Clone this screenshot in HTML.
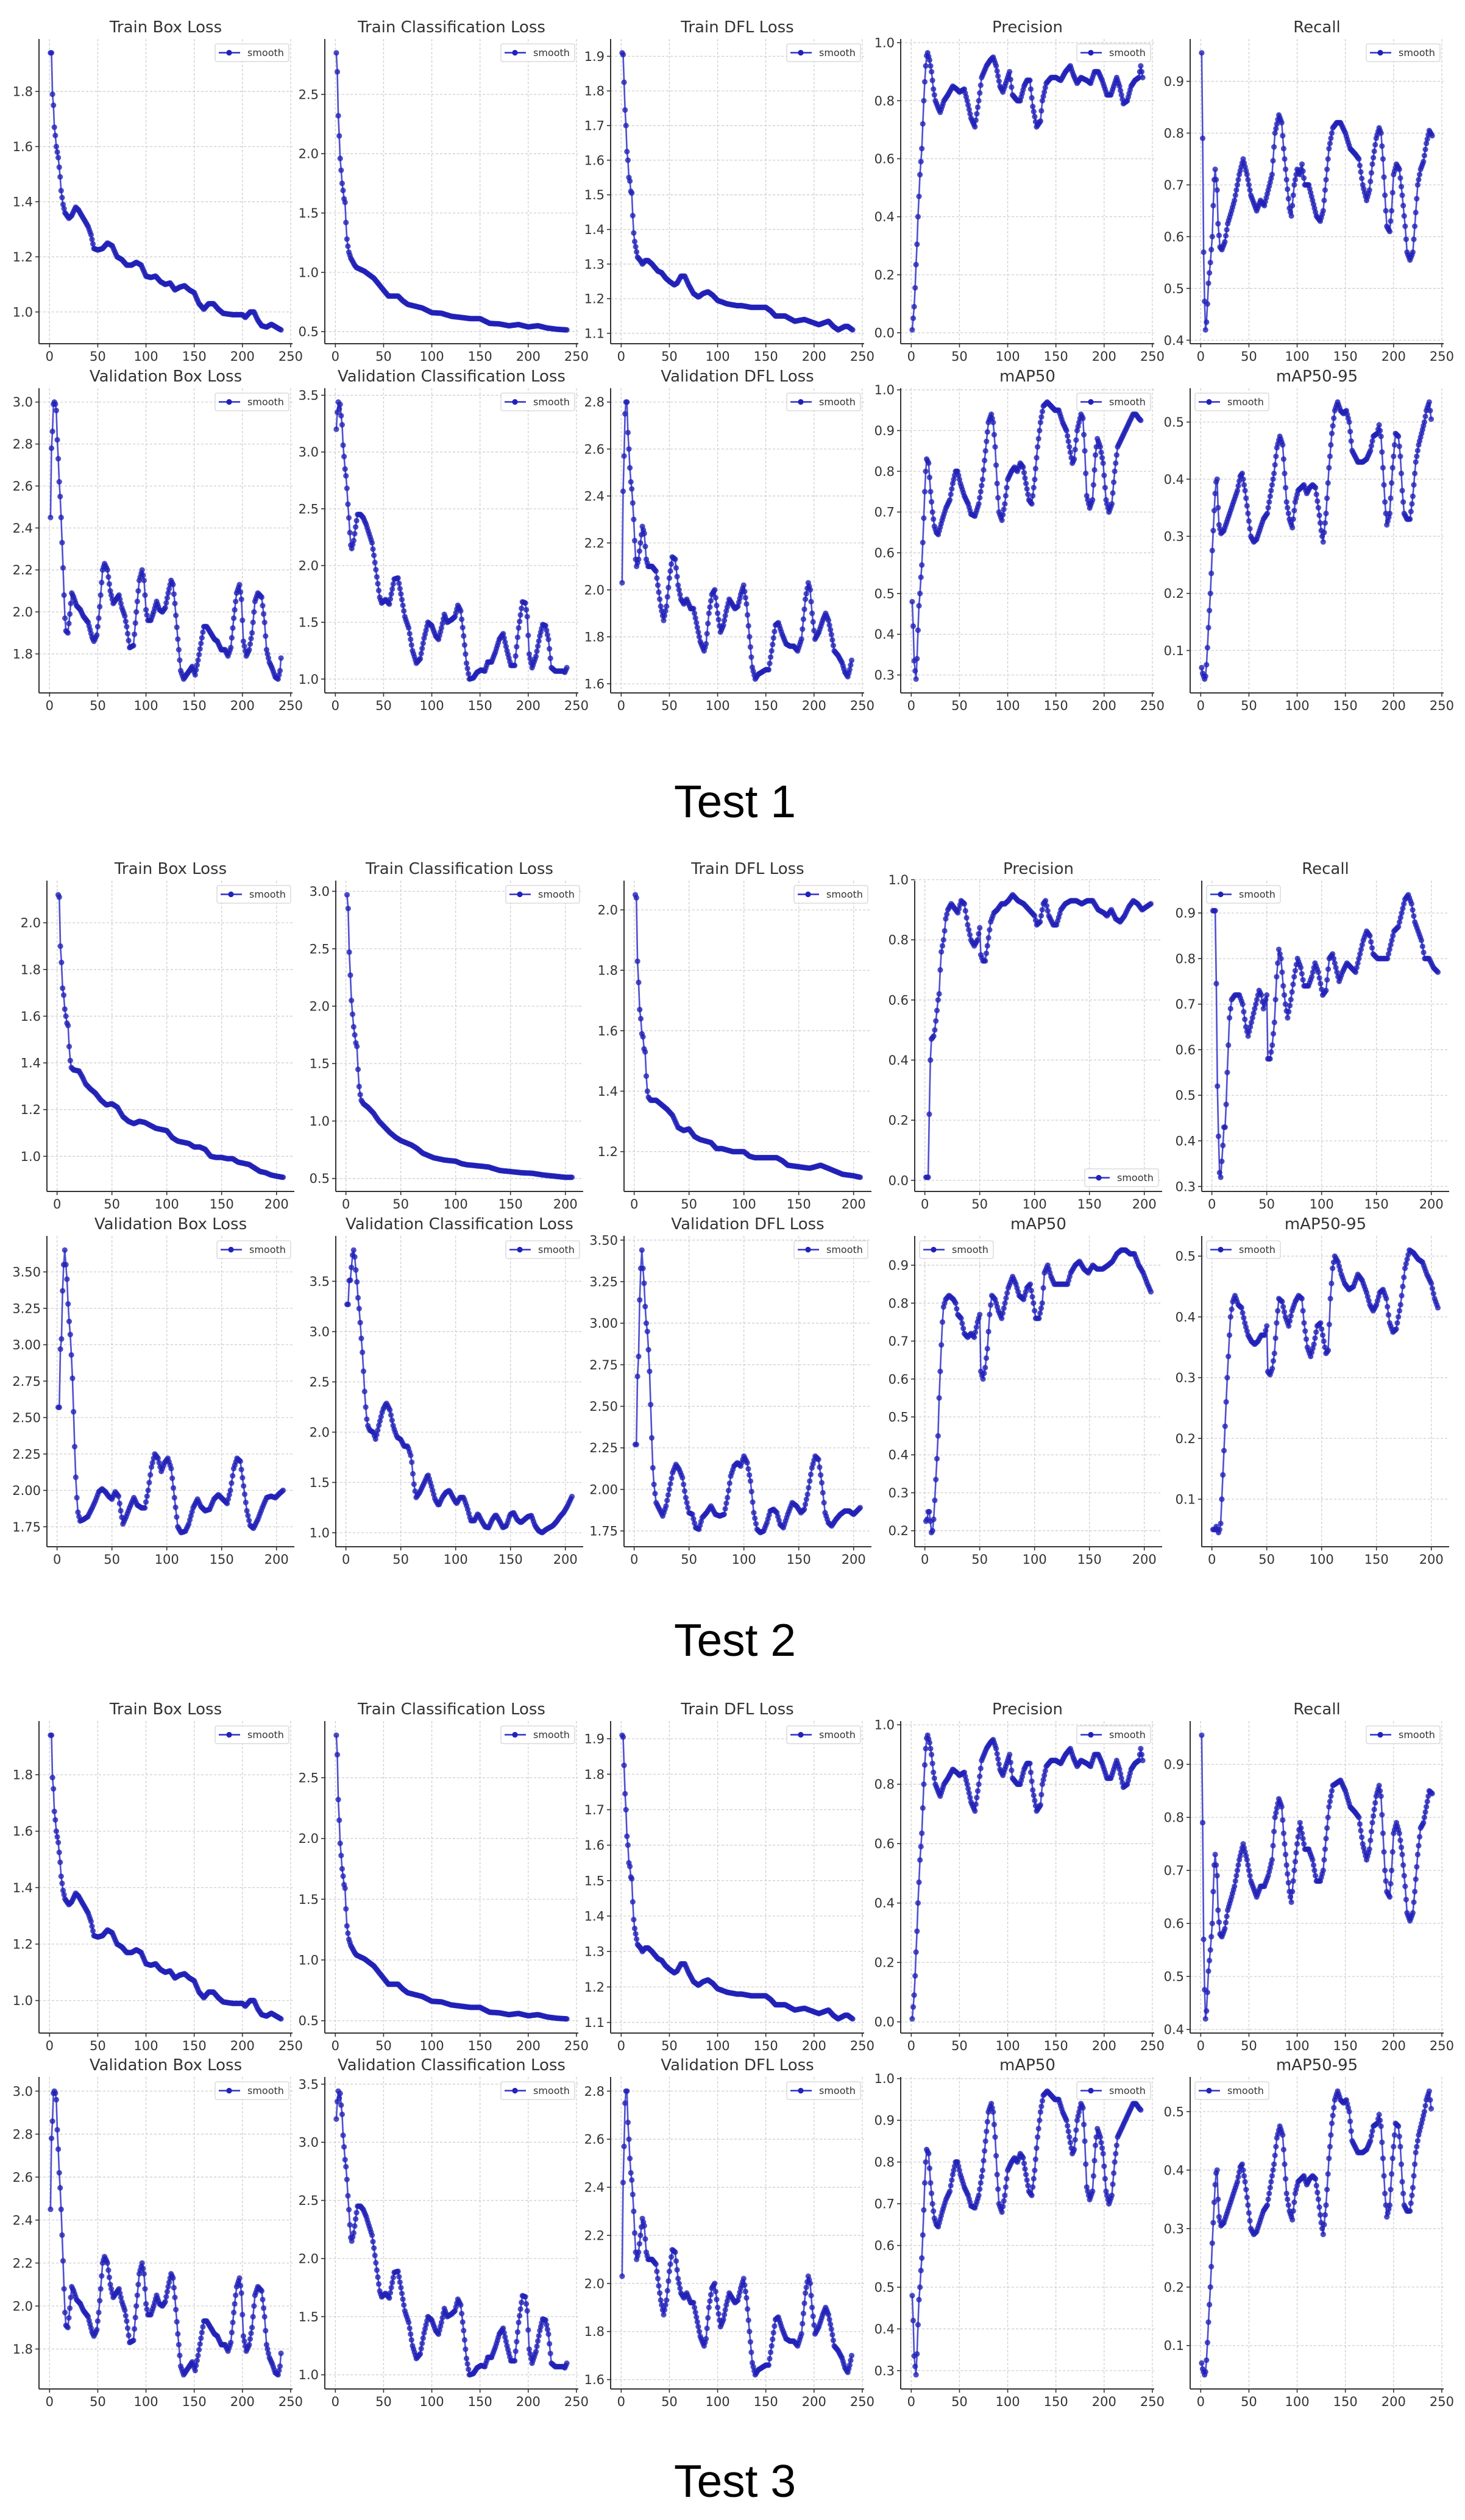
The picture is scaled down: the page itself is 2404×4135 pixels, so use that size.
<!DOCTYPE html>
<html><head><meta charset="utf-8">
<style>
html,body{margin:0;padding:0;background:#fff;}
svg{display:block;}
</style></head>
<body>
<svg id="s" xmlns="http://www.w3.org/2000/svg" width="2404" height="4135" viewBox="0 0 2404 4135">
<rect width="2404" height="4135" fill="#fff"/>
<text x="1206" y="1341" font-family="Liberation Sans, sans-serif" font-size="75" text-anchor="middle" fill="#000">Test 1</text>
<text x="1206" y="2717" font-family="Liberation Sans, sans-serif" font-size="75" text-anchor="middle" fill="#000">Test 2</text>
<text x="1206" y="4097" font-family="Liberation Sans, sans-serif" font-size="75" text-anchor="middle" fill="#000">Test 3</text>
</svg>
<script>
var D={};
D.tbox1=[[1,1.94],[2,1.94],[3,1.79],[4,1.75],[5,1.67],[6,1.64],[7,1.6],[9,1.56],[11,1.49],[12,1.44],[14,1.39],[16,1.36],[20,1.34],[23,1.35],[27,1.38],[30,1.37],[35,1.34],[40,1.31],[43,1.28],[46,1.23],[50,1.225],[55,1.23],[60,1.25],[65,1.24],[70,1.2],[75,1.19],[80,1.17],[85,1.17],[90,1.18],[95,1.17],[100,1.13],[105,1.125],[110,1.13],[115,1.11],[120,1.1],[125,1.105],[130,1.08],[135,1.09],[140,1.095],[145,1.08],[150,1.07],[155,1.03],[160,1.01],[165,1.03],[170,1.03],[175,1.01],[180,0.995],[190,0.99],[195,0.99],[200,0.99],[203,0.98],[208,1.0],[212,1.0],[216,0.97],[220,0.95],[225,0.945],[230,0.955],[235,0.945],[240,0.935]];
D.tcls1=[[1,2.85],[2,2.69],[3,2.32],[4,2.15],[5,1.96],[6,1.86],[7,1.75],[8,1.69],[9,1.62],[10,1.59],[11,1.42],[12,1.28],[13,1.22],[14,1.17],[16,1.12],[18,1.09],[20,1.06],[22,1.04],[30,1.01],[40,0.95],[50,0.85],[55,0.8],[60,0.8],[65,0.8],[70,0.76],[75,0.73],[80,0.72],[90,0.7],[100,0.66],[110,0.655],[120,0.63],[130,0.62],[140,0.61],[150,0.61],[155,0.59],[160,0.57],[170,0.565],[180,0.55],[190,0.56],[200,0.54],[210,0.55],[220,0.53],[230,0.52],[240,0.515]];
D.tdfl1=[[1,1.91],[2,1.905],[4,1.745],[5,1.70],[6,1.625],[7,1.6],[8,1.55],[9,1.54],[10,1.51],[11,1.505],[12,1.44],[13,1.39],[14,1.365],[15,1.35],[17,1.32],[20,1.31],[22,1.3],[25,1.31],[28,1.31],[32,1.3],[38,1.28],[42,1.275],[46,1.26],[50,1.25],[55,1.24],[58,1.245],[62,1.265],[66,1.265],[70,1.24],[75,1.215],[80,1.205],[85,1.215],[90,1.22],[95,1.21],[100,1.195],[110,1.185],[120,1.18],[125,1.18],[135,1.175],[150,1.175],[155,1.165],[160,1.15],[165,1.15],[170,1.15],[180,1.135],[190,1.14],[200,1.13],[205,1.125],[215,1.135],[220,1.12],[225,1.11],[232,1.12],[235,1.12],[240,1.11]];
D.prec1=[[1,0.01],[3,0.09],[4,0.155],[5,0.235],[6,0.305],[7,0.4],[8,0.47],[9,0.545],[10,0.59],[11,0.635],[12,0.72],[13,0.8],[14,0.865],[15,0.92],[16,0.955],[17,0.965],[19,0.94],[21,0.9],[23,0.84],[25,0.8],[28,0.775],[30,0.76],[34,0.8],[38,0.82],[43,0.85],[47,0.84],[50,0.83],[55,0.84],[58,0.8],[62,0.74],[66,0.71],[70,0.8],[73,0.88],[78,0.92],[82,0.94],[85,0.95],[88,0.92],[92,0.85],[95,0.83],[100,0.88],[102,0.9],[105,0.82],[110,0.8],[113,0.8],[117,0.85],[120,0.87],[123,0.87],[126,0.78],[130,0.71],[134,0.73],[136,0.8],[140,0.86],[145,0.88],[150,0.88],[155,0.87],[160,0.9],[165,0.92],[168,0.89],[172,0.86],[176,0.88],[182,0.87],[186,0.86],[190,0.9],[194,0.9],[198,0.87],[203,0.82],[207,0.82],[210,0.85],[213,0.88],[216,0.85],[220,0.79],[224,0.8],[228,0.85],[232,0.87],[236,0.88],[238,0.92],[240,0.88]];
D.rec1=[[1,0.955],[2,0.79],[3,0.57],[4,0.475],[5,0.42],[6,0.435],[7,0.47],[8,0.51],[9,0.53],[10,0.55],[12,0.6],[13,0.66],[14,0.71],[15,0.73],[16,0.71],[17,0.69],[18,0.625],[20,0.58],[22,0.575],[25,0.59],[28,0.625],[32,0.65],[35,0.67],[40,0.72],[44,0.75],[48,0.72],[52,0.68],[55,0.665],[58,0.65],[62,0.67],[66,0.66],[70,0.69],[74,0.72],[77,0.8],[81,0.835],[84,0.82],[86,0.77],[89,0.71],[92,0.655],[94,0.64],[97,0.7],[100,0.73],[103,0.72],[105,0.74],[108,0.7],[112,0.7],[116,0.67],[120,0.64],[124,0.63],[127,0.65],[130,0.71],[133,0.77],[137,0.81],[141,0.82],[145,0.82],[150,0.8],[155,0.77],[160,0.76],[164,0.75],[168,0.7],[172,0.67],[175,0.69],[178,0.74],[182,0.79],[185,0.81],[187,0.8],[189,0.75],[191,0.68],[193,0.62],[196,0.61],[198,0.65],[200,0.72],[203,0.74],[206,0.73],[209,0.68],[212,0.62],[214,0.57],[217,0.555],[220,0.57],[222,0.62],[225,0.7],[228,0.73],[231,0.745],[234,0.78],[237,0.805],[240,0.795]];
D.rec3=[[1,0.955],[2,0.79],[3,0.57],[4,0.475],[5,0.42],[6,0.435],[7,0.47],[8,0.51],[9,0.53],[10,0.55],[12,0.6],[13,0.66],[14,0.71],[15,0.73],[16,0.71],[17,0.69],[18,0.625],[20,0.58],[22,0.575],[25,0.59],[28,0.625],[32,0.65],[35,0.67],[40,0.72],[44,0.75],[48,0.72],[52,0.68],[55,0.665],[58,0.65],[62,0.67],[66,0.67],[70,0.69],[74,0.72],[77,0.8],[81,0.835],[84,0.82],[86,0.77],[89,0.71],[92,0.66],[94,0.64],[97,0.7],[100,0.75],[103,0.79],[105,0.77],[108,0.74],[112,0.74],[116,0.72],[120,0.68],[124,0.68],[127,0.7],[130,0.76],[133,0.82],[137,0.86],[141,0.865],[145,0.87],[150,0.85],[155,0.82],[160,0.81],[164,0.8],[168,0.75],[172,0.72],[175,0.74],[178,0.79],[182,0.84],[185,0.86],[187,0.84],[189,0.77],[191,0.7],[193,0.66],[196,0.65],[198,0.7],[200,0.77],[203,0.79],[206,0.77],[209,0.73],[212,0.67],[214,0.62],[217,0.605],[220,0.62],[222,0.66],[225,0.73],[228,0.78],[231,0.79],[234,0.82],[237,0.85],[240,0.845]];
D.vbox1=[[1,2.45],[2,2.78],[3,2.86],[4,2.99],[5,3.0],[6,2.99],[7,2.96],[8,2.82],[9,2.73],[10,2.62],[11,2.55],[12,2.45],[13,2.33],[14,2.21],[15,2.08],[16,1.97],[17,1.91],[19,1.9],[21,1.99],[23,2.09],[25,2.07],[28,2.03],[32,2.01],[35,1.98],[40,1.95],[44,1.88],[46,1.86],[49,1.89],[51,1.97],[53,2.08],[55,2.2],[57,2.23],[60,2.2],[63,2.1],[66,2.04],[69,2.06],[72,2.08],[75,2.02],[78,1.98],[80,1.93],[83,1.83],[87,1.84],[90,2.0],[93,2.15],[96,2.2],[98,2.15],[100,2.01],[102,1.96],[105,1.96],[108,2.0],[111,2.05],[114,2.01],[117,2.0],[120,2.02],[123,2.09],[126,2.15],[128,2.13],[130,2.04],[133,1.87],[136,1.72],[139,1.68],[142,1.7],[145,1.72],[148,1.74],[151,1.7],[154,1.77],[157,1.85],[160,1.93],[163,1.93],[167,1.9],[171,1.87],[174,1.86],[178,1.82],[182,1.82],[185,1.79],[188,1.83],[191,1.97],[194,2.09],[197,2.13],[199,2.06],[201,1.86],[204,1.79],[207,1.82],[210,1.9],[213,2.05],[216,2.09],[220,2.07],[223,1.95],[225,1.82],[228,1.76],[231,1.73],[234,1.69],[237,1.68],[239,1.72],[240,1.78]];
D.vcls1=[[1,3.2],[2,3.35],[3,3.44],[4,3.38],[5,3.42],[6,3.32],[7,3.24],[8,3.06],[9,2.96],[10,2.85],[11,2.79],[12,2.68],[13,2.54],[14,2.42],[15,2.29],[16,2.18],[17,2.15],[19,2.22],[21,2.34],[23,2.45],[26,2.45],[29,2.42],[32,2.36],[35,2.28],[38,2.2],[40,2.09],[43,1.9],[46,1.72],[48,1.67],[52,1.7],[56,1.66],[58,1.75],[61,1.88],[65,1.89],[68,1.75],[72,1.55],[76,1.45],[80,1.25],[84,1.14],[88,1.18],[92,1.36],[96,1.5],[100,1.47],[104,1.38],[107,1.35],[110,1.45],[113,1.57],[116,1.5],[120,1.52],[124,1.55],[127,1.65],[130,1.6],[133,1.38],[136,1.14],[139,1.0],[143,1.01],[147,1.06],[151,1.08],[155,1.07],[158,1.15],[162,1.15],[166,1.24],[170,1.35],[174,1.4],[178,1.25],[182,1.12],[186,1.12],[190,1.45],[194,1.68],[197,1.67],[199,1.55],[201,1.22],[204,1.1],[208,1.2],[212,1.38],[215,1.48],[218,1.47],[221,1.35],[224,1.1],[228,1.07],[232,1.07],[236,1.07],[238,1.06],[240,1.1]];
D.vdfl1=[[1,2.03],[2,2.42],[3,2.57],[4,2.75],[5,2.8],[6,2.8],[7,2.67],[8,2.6],[9,2.52],[10,2.46],[11,2.43],[12,2.37],[13,2.3],[14,2.21],[15,2.13],[16,2.1],[18,2.13],[20,2.2],[22,2.27],[24,2.24],[26,2.13],[28,2.1],[32,2.1],[36,2.08],[38,2.02],[41,1.93],[44,1.87],[47,1.93],[50,2.05],[53,2.14],[56,2.13],[59,2.02],[62,1.96],[65,1.94],[68,1.96],[72,1.92],[75,1.92],[78,1.86],[82,1.78],[86,1.74],[88,1.77],[91,1.9],[94,1.98],[97,2.0],[100,1.9],[103,1.82],[106,1.85],[109,1.91],[112,1.96],[115,1.94],[118,1.92],[121,1.93],[124,1.98],[127,2.02],[130,1.94],[133,1.8],[136,1.67],[139,1.62],[142,1.64],[146,1.65],[150,1.66],[153,1.66],[156,1.74],[160,1.85],[163,1.86],[167,1.81],[171,1.77],[175,1.76],[179,1.76],[183,1.74],[187,1.79],[191,1.96],[194,2.03],[196,2.0],[198,1.9],[201,1.79],[205,1.82],[209,1.87],[212,1.9],[215,1.87],[218,1.81],[221,1.74],[225,1.72],[229,1.69],[232,1.65],[235,1.63],[237,1.66],[239,1.7]];
D.map1=[[1,0.48],[2,0.42],[3,0.335],[4,0.31],[5,0.29],[6,0.34],[7,0.41],[8,0.47],[9,0.5],[10,0.54],[11,0.57],[12,0.625],[13,0.685],[14,0.75],[15,0.8],[16,0.83],[18,0.82],[20,0.75],[22,0.7],[24,0.665],[26,0.65],[28,0.645],[32,0.68],[36,0.71],[40,0.73],[43,0.77],[46,0.8],[48,0.8],[51,0.77],[55,0.74],[59,0.72],[62,0.695],[66,0.69],[70,0.72],[74,0.78],[77,0.85],[80,0.92],[83,0.94],[85,0.92],[87,0.86],[89,0.77],[91,0.7],[94,0.68],[97,0.72],[100,0.78],[104,0.8],[107,0.81],[110,0.8],[113,0.82],[116,0.81],[119,0.77],[122,0.73],[125,0.72],[128,0.78],[131,0.86],[134,0.92],[137,0.96],[141,0.97],[145,0.96],[149,0.95],[153,0.95],[157,0.92],[161,0.9],[164,0.86],[167,0.82],[169,0.83],[172,0.9],[176,0.94],[178,0.93],[180,0.85],[182,0.74],[185,0.71],[188,0.73],[191,0.84],[193,0.88],[196,0.86],[199,0.82],[202,0.73],[205,0.7],[208,0.72],[211,0.8],[214,0.86],[218,0.88],[222,0.9],[226,0.92],[230,0.94],[233,0.94],[236,0.93],[238,0.925]];
D.m951=[[1,0.07],[2,0.06],[3,0.055],[4,0.05],[5,0.055],[6,0.075],[7,0.105],[8,0.14],[9,0.17],[10,0.2],[11,0.235],[12,0.275],[13,0.31],[14,0.345],[15,0.375],[16,0.395],[17,0.4],[18,0.35],[19,0.32],[21,0.305],[24,0.31],[27,0.325],[30,0.34],[34,0.36],[38,0.38],[41,0.405],[43,0.41],[46,0.38],[49,0.34],[52,0.3],[55,0.29],[58,0.295],[61,0.31],[65,0.33],[69,0.34],[73,0.38],[76,0.41],[79,0.455],[82,0.475],[85,0.46],[87,0.41],[89,0.36],[92,0.33],[95,0.315],[98,0.36],[101,0.38],[104,0.385],[107,0.39],[110,0.375],[113,0.385],[116,0.39],[119,0.385],[122,0.35],[125,0.31],[127,0.29],[130,0.34],[133,0.42],[136,0.48],[139,0.52],[142,0.535],[145,0.52],[148,0.515],[151,0.52],[154,0.5],[157,0.45],[160,0.44],[163,0.43],[168,0.43],[172,0.435],[176,0.45],[179,0.475],[183,0.48],[185,0.495],[187,0.475],[189,0.42],[191,0.36],[193,0.32],[196,0.34],[199,0.42],[202,0.48],[205,0.475],[207,0.44],[209,0.38],[211,0.34],[214,0.33],[217,0.33],[220,0.37],[223,0.43],[226,0.46],[229,0.48],[232,0.5],[234,0.52],[237,0.535],[239,0.505]];
D.tbox2=[[1,2.12],[2,2.11],[3,1.9],[4,1.83],[5,1.72],[6,1.69],[7,1.63],[8,1.6],[9,1.57],[10,1.56],[11,1.47],[12,1.41],[13,1.38],[15,1.37],[20,1.365],[23,1.34],[26,1.31],[30,1.29],[35,1.27],[40,1.24],[45,1.22],[50,1.225],[55,1.21],[60,1.17],[65,1.15],[70,1.14],[75,1.15],[80,1.145],[90,1.12],[100,1.11],[105,1.08],[110,1.065],[115,1.06],[120,1.055],[125,1.04],[130,1.04],[135,1.03],[140,1.0],[145,0.995],[150,0.995],[155,0.99],[160,0.99],[165,0.975],[170,0.97],[175,0.965],[180,0.95],[185,0.935],[190,0.93],[195,0.92],[200,0.915],[206,0.91]];
D.tcls2=[[1,2.97],[2,2.85],[3,2.47],[4,2.27],[5,2.05],[6,1.93],[7,1.82],[8,1.75],[9,1.68],[10,1.65],[11,1.45],[12,1.3],[13,1.23],[14,1.18],[16,1.15],[20,1.12],[25,1.07],[30,1.0],[35,0.95],[40,0.9],[45,0.86],[50,0.83],[55,0.81],[60,0.79],[65,0.76],[70,0.72],[75,0.7],[80,0.68],[90,0.66],[100,0.65],[105,0.63],[110,0.62],[120,0.61],[130,0.6],[140,0.57],[150,0.56],[160,0.55],[170,0.545],[180,0.53],[190,0.52],[200,0.51],[206,0.51]];
D.tdfl2=[[1,2.05],[2,2.04],[3,1.83],[4,1.76],[5,1.67],[6,1.64],[7,1.59],[8,1.58],[9,1.54],[10,1.53],[11,1.45],[12,1.4],[13,1.38],[15,1.37],[20,1.37],[25,1.355],[30,1.34],[35,1.32],[40,1.28],[45,1.27],[50,1.275],[55,1.25],[60,1.24],[65,1.235],[70,1.23],[75,1.21],[80,1.21],[90,1.2],[95,1.2],[100,1.2],[105,1.185],[110,1.18],[120,1.18],[130,1.18],[135,1.17],[140,1.155],[150,1.15],[160,1.145],[170,1.155],[180,1.14],[190,1.125],[200,1.12],[206,1.115]];
D.prec2=[[1,0.01],[2,0.01],[3,0.01],[4,0.22],[5,0.4],[6,0.47],[8,0.48],[9,0.5],[10,0.53],[12,0.6],[13,0.62],[14,0.7],[15,0.76],[17,0.8],[18,0.83],[19,0.87],[21,0.9],[24,0.92],[28,0.9],[30,0.89],[33,0.93],[36,0.92],[39,0.85],[42,0.8],[45,0.78],[48,0.8],[50,0.84],[51,0.75],[53,0.73],[55,0.73],[57,0.78],[60,0.86],[63,0.89],[66,0.9],[70,0.92],[73,0.92],[76,0.93],[80,0.95],[85,0.93],[90,0.92],[95,0.9],[100,0.88],[102,0.85],[105,0.86],[108,0.92],[110,0.93],[113,0.88],[117,0.85],[120,0.85],[124,0.9],[128,0.92],[133,0.93],[138,0.93],[143,0.92],[148,0.93],[153,0.93],[158,0.9],[163,0.89],[166,0.88],[170,0.9],[174,0.87],[178,0.86],[182,0.88],[186,0.91],[190,0.93],[194,0.92],[198,0.9],[202,0.91],[206,0.92]];
D.rec2=[[1,0.905],[2,0.905],[3,0.905],[4,0.745],[5,0.52],[6,0.41],[7,0.33],[8,0.32],[9,0.355],[10,0.39],[11,0.43],[12,0.43],[13,0.48],[14,0.55],[15,0.61],[16,0.67],[18,0.71],[21,0.72],[25,0.72],[28,0.7],[31,0.65],[33,0.63],[36,0.66],[40,0.7],[43,0.73],[45,0.72],[47,0.69],[50,0.72],[51,0.58],[53,0.58],[55,0.61],[57,0.66],[59,0.76],[61,0.82],[63,0.8],[65,0.74],[67,0.7],[69,0.67],[72,0.71],[75,0.76],[78,0.8],[81,0.78],[84,0.74],[88,0.74],[91,0.76],[94,0.79],[97,0.77],[101,0.72],[104,0.73],[107,0.8],[110,0.81],[113,0.78],[116,0.75],[119,0.77],[123,0.79],[127,0.78],[131,0.77],[134,0.8],[138,0.84],[141,0.86],[144,0.85],[147,0.81],[151,0.8],[156,0.8],[160,0.8],[163,0.83],[166,0.86],[170,0.87],[173,0.9],[176,0.93],[179,0.94],[182,0.92],[185,0.88],[188,0.86],[191,0.84],[194,0.8],[198,0.8],[202,0.78],[206,0.77]];
D.vbox2=[[1,2.57],[2,2.57],[3,2.97],[4,3.04],[5,3.37],[6,3.55],[7,3.65],[8,3.55],[9,3.45],[10,3.28],[11,3.16],[12,3.07],[13,2.93],[14,2.77],[15,2.54],[16,2.3],[17,2.09],[18,1.95],[19,1.85],[21,1.79],[24,1.8],[28,1.82],[32,1.88],[35,1.93],[38,1.99],[41,2.01],[44,1.99],[47,1.96],[50,1.94],[53,1.99],[56,1.96],[58,1.86],[60,1.77],[63,1.82],[66,1.88],[70,1.95],[73,1.9],[77,1.88],[80,1.88],[83,2.0],[86,2.16],[89,2.25],[92,2.22],[95,2.13],[98,2.19],[101,2.22],[104,2.15],[107,1.95],[110,1.75],[113,1.71],[117,1.72],[120,1.77],[124,1.88],[128,1.94],[131,1.89],[135,1.86],[139,1.87],[143,1.94],[147,1.97],[151,1.94],[155,1.91],[158,2.0],[161,2.15],[164,2.22],[167,2.2],[170,2.03],[173,1.86],[176,1.76],[179,1.74],[183,1.8],[187,1.88],[191,1.95],[195,1.96],[199,1.95],[203,1.98],[206,2.0]];
D.vcls2=[[1,3.27],[2,3.27],[3,3.55],[4,3.5],[5,3.7],[6,3.8],[7,3.82],[8,3.65],[9,3.55],[10,3.36],[11,3.25],[12,3.1],[13,2.93],[14,2.78],[15,2.57],[16,2.35],[17,2.2],[18,2.08],[20,2.02],[23,2.0],[25,1.93],[28,2.08],[31,2.22],[34,2.29],[37,2.22],[40,2.05],[43,1.95],[46,1.93],[49,1.86],[52,1.86],[55,1.75],[57,1.5],[59,1.35],[62,1.4],[66,1.5],[69,1.58],[72,1.46],[75,1.33],[78,1.27],[81,1.35],[84,1.4],[87,1.42],[90,1.35],[93,1.29],[96,1.35],[99,1.35],[102,1.25],[105,1.12],[108,1.12],[111,1.19],[114,1.12],[117,1.06],[120,1.05],[123,1.13],[126,1.18],[129,1.12],[132,1.05],[135,1.07],[138,1.18],[141,1.2],[144,1.13],[147,1.1],[150,1.13],[153,1.16],[156,1.17],[159,1.07],[162,1.02],[165,1.0],[168,1.03],[171,1.05],[174,1.07],[177,1.11],[180,1.16],[183,1.2],[186,1.26],[190,1.36]].map(function(p){return [1+(p[0]-1)*205/189,p[1]];});
D.vdfl2=[[1,2.27],[2,2.27],[3,2.68],[4,2.8],[5,3.14],[6,3.33],[7,3.44],[8,3.33],[9,3.24],[10,3.1],[11,3.0],[12,2.95],[13,2.84],[14,2.71],[15,2.51],[16,2.31],[17,2.13],[18,2.03],[20,1.92],[23,1.88],[26,1.84],[29,1.9],[32,2.0],[35,2.1],[38,2.15],[41,2.12],[44,2.07],[47,1.95],[50,1.86],[53,1.85],[56,1.77],[59,1.76],[62,1.83],[66,1.86],[70,1.9],[74,1.85],[78,1.84],[82,1.85],[85,1.95],[88,2.08],[91,2.14],[94,2.16],[97,2.14],[100,2.2],[103,2.16],[106,2.05],[109,1.86],[112,1.76],[115,1.74],[118,1.75],[121,1.8],[124,1.87],[127,1.88],[130,1.86],[133,1.79],[136,1.77],[140,1.85],[144,1.92],[148,1.9],[152,1.86],[155,1.88],[158,1.97],[162,2.13],[165,2.2],[168,2.18],[171,2.04],[174,1.86],[177,1.8],[180,1.78],[184,1.82],[188,1.85],[192,1.87],[196,1.87],[200,1.85],[203,1.87],[206,1.89]];
D.map2=[[1,0.225],[2,0.23],[3,0.25],[4,0.25],[5,0.225],[6,0.195],[7,0.2],[8,0.23],[9,0.28],[10,0.335],[11,0.39],[12,0.45],[13,0.55],[14,0.62],[15,0.69],[16,0.75],[17,0.79],[19,0.81],[22,0.82],[26,0.81],[28,0.8],[30,0.77],[33,0.76],[36,0.72],[39,0.71],[42,0.72],[45,0.71],[48,0.75],[50,0.77],[51,0.62],[53,0.6],[55,0.63],[57,0.68],[59,0.77],[61,0.82],[64,0.81],[67,0.78],[70,0.76],[73,0.8],[76,0.84],[80,0.87],[83,0.85],[86,0.82],[90,0.81],[93,0.84],[96,0.85],[99,0.8],[101,0.76],[104,0.76],[107,0.8],[109,0.88],[112,0.9],[115,0.87],[118,0.85],[124,0.85],[130,0.85],[133,0.88],[137,0.9],[141,0.91],[145,0.89],[149,0.88],[153,0.9],[157,0.89],[162,0.89],[167,0.9],[171,0.91],[175,0.93],[179,0.94],[183,0.94],[187,0.93],[191,0.93],[195,0.9],[199,0.88],[203,0.85],[206,0.83]];
D.m952=[[1,0.05],[3,0.05],[4,0.055],[6,0.045],[7,0.05],[8,0.06],[9,0.1],[10,0.14],[11,0.18],[12,0.22],[13,0.26],[14,0.3],[15,0.335],[16,0.37],[17,0.4],[19,0.425],[21,0.435],[24,0.42],[27,0.415],[30,0.39],[33,0.37],[36,0.36],[39,0.355],[42,0.36],[45,0.37],[48,0.37],[50,0.385],[51,0.31],[53,0.305],[55,0.315],[57,0.34],[59,0.39],[61,0.43],[64,0.425],[67,0.4],[70,0.385],[73,0.41],[76,0.425],[79,0.435],[82,0.43],[84,0.39],[87,0.35],[90,0.335],[93,0.355],[96,0.385],[99,0.39],[102,0.36],[104,0.34],[106,0.345],[108,0.43],[110,0.48],[112,0.5],[115,0.49],[118,0.47],[121,0.455],[125,0.445],[129,0.45],[133,0.47],[137,0.46],[141,0.44],[144,0.42],[147,0.41],[150,0.42],[153,0.44],[156,0.445],[159,0.43],[162,0.39],[165,0.375],[168,0.38],[172,0.42],[176,0.48],[180,0.51],[184,0.505],[188,0.495],[192,0.49],[196,0.47],[200,0.455],[203,0.43],[206,0.415]];

function interp(kp,x){
  if(x<=kp[0][0])return kp[0][1];
  for(var i=1;i<kp.length;i++){ if(x<=kp[i][0]){var a=kp[i-1],b=kp[i];var t=(x-a[0])/(b[0]-a[0]);return a[1]+(b[1]-a[1])*t;} }
  return kp[kp.length-1][1];
}
var svg=document.getElementById('s');var out='';
var FONT='DejaVu Sans, Liberation Sans, sans-serif';
function fmt(v,d){return v.toFixed(d);}
function panel(o){
  var L=o.l,T=o.t,W=o.w,H=o.h,N=o.n,kp=D[o.k];
  var last=Math.min(N,kp[kp.length-1][0]);
  var pts=[];for(var e=1;e<=Math.round(last);e++)pts.push([e,interp(kp,e)]);
  var mn=1e9,mx=-1e9;pts.forEach(function(p){mn=Math.min(mn,p[1]);mx=Math.max(mx,p[1]);});
  var r=mx-mn;var y0=mn-0.05*r,y1=mx+0.05*r;
  var x0=1-0.05*(N-1),x1=N+0.05*(N-1);
  function X(x){return L+(x-x0)/(x1-x0)*W;} function Y(y){return T+H-(y-y0)/(y1-y0)*H;}
  var s='';
  // grid
  o.xt.forEach(function(v){var x=X(v);if(x<L||x>L+W+1)return;s+='<line x1="'+x+'" y1="'+T+'" x2="'+x+'" y2="'+(T+H)+'" stroke="#cfcfcf" stroke-width="1.3" stroke-dasharray="4,3"/>';
    s+='<line x1="'+x+'" y1="'+(T+H)+'" x2="'+x+'" y2="'+(T+H+6)+'" stroke="#333" stroke-width="1.6"/>';
    s+='<text x="'+x+'" y="'+(T+H+28)+'" font-family="'+FONT+'" font-size="21" fill="#333" text-anchor="middle">'+v+'</text>';});
  var yt=[];for(var v=o.yt[0];v<=o.yt[1]+1e-9;v+=o.yt[2])yt.push(v);
  yt.forEach(function(v){var y=Y(v);if(y<T-2||y>T+H+2)return;s+='<line x1="'+L+'" y1="'+y+'" x2="'+(L+W)+'" y2="'+y+'" stroke="#cfcfcf" stroke-width="1.3" stroke-dasharray="4,3"/>';
    s+='<line x1="'+(L-6)+'" y1="'+y+'" x2="'+L+'" y2="'+y+'" stroke="#333" stroke-width="1.6"/>';
    s+='<text x="'+(L-10)+'" y="'+(y+7.5)+'" font-family="'+FONT+'" font-size="21" fill="#333" text-anchor="end">'+fmt(v,o.yt[3])+'</text>';});
  // spines
  s+='<line x1="'+L+'" y1="'+T+'" x2="'+L+'" y2="'+(T+H)+'" stroke="#333" stroke-width="2"/>';
  s+='<line x1="'+L+'" y1="'+(T+H)+'" x2="'+(L+W)+'" y2="'+(T+H)+'" stroke="#333" stroke-width="2"/>';
  // title
  s+='<text x="'+(L+W/2)+'" y="'+(T-11)+'" font-family="'+FONT+'" font-size="26" fill="#333" text-anchor="middle">'+o.title+'</text>';
  // series
  var d=pts.map(function(p,i){return (i?'L':'M')+X(p[0]).toFixed(1)+' '+Y(p[1]).toFixed(1);}).join('');
  s+='<path d="'+d+'" fill="none" stroke="#3030c8" stroke-width="2.6" stroke-opacity="0.85"/>';
  s+='<g fill="#2222b8" fill-opacity="0.8">';
  pts.forEach(function(p){s+='<circle cx="'+X(p[0]).toFixed(1)+'" cy="'+Y(p[1]).toFixed(1)+'" r="4.6"/>';});
  s+='</g>';
  // legend
  var lw=121,lh=29,lx,ly;
  var pos=o.leg||'ur';
  if(pos=='ur'){lx=L+W-6-lw;ly=T+8;} else if(pos=='ul'){lx=L+8;ly=T+8;} else {lx=L+W-6-lw;ly=T+H-8-lh;}
  s+='<rect x="'+lx+'" y="'+ly+'" width="'+lw+'" height="'+lh+'" rx="3" fill="#fff" fill-opacity="0.85" stroke="#d4d4d4" stroke-width="1.3"/>';
  s+='<line x1="'+(lx+6)+'" y1="'+(ly+lh/2)+'" x2="'+(lx+41)+'" y2="'+(ly+lh/2)+'" stroke="#3030c8" stroke-width="2.6"/>';
  s+='<circle cx="'+(lx+23)+'" cy="'+(ly+lh/2)+'" r="4.6" fill="#2222b8"/>';
  s+='<text x="'+(lx+53)+'" y="'+(ly+lh/2+5.5)+'" font-family="'+FONT+'" font-size="16" fill="#333">smooth</text>';
  out+=s;
}
var X250=[0,50,100,150,200,250],X200=[0,50,100,150,200];
function block(cfg,specs){
  specs.forEach(function(sp,i){
    var c=i%5,r=Math.floor(i/5);
    panel({l:cfg.lefts[c],t:cfg.tops[r],w:cfg.w,h:cfg.h,n:cfg.n,k:sp[0],title:sp[1],yt:sp[2],leg:sp[3],xt:cfg.xt});
  });
}
var T1=[
 ['tbox1','Train Box Loss',[1.0,1.8,0.2,1]],
 ['tcls1','Train Classification Loss',[0.5,2.5,0.5,1]],
 ['tdfl1','Train DFL Loss',[1.1,1.9,0.1,1]],
 ['prec1','Precision',[0,1,0.2,1]],
 ['rec1','Recall',[0.4,0.9,0.1,1]],
 ['vbox1','Validation Box Loss',[1.8,3.0,0.2,1]],
 ['vcls1','Validation Classification Loss',[1.0,3.5,0.5,1]],
 ['vdfl1','Validation DFL Loss',[1.6,2.8,0.2,1]],
 ['map1','mAP50',[0.3,1.0,0.1,1]],
 ['m951','mAP50-95',[0.1,0.5,0.1,1],'ul']
];
block({lefts:[64,533,1002,1478,1953],tops:[64,637],w:416,h:500,n:240,xt:X250},T1);
block({lefts:[77,551,1024,1501,1972],tops:[1445,2028],w:406,h:510,n:206,xt:X200},[
 ['tbox2','Train Box Loss',[1.0,2.0,0.2,1]],
 ['tcls2','Train Classification Loss',[0.5,3.0,0.5,1]],
 ['tdfl2','Train DFL Loss',[1.2,2.0,0.2,1]],
 ['prec2','Precision',[0,1,0.2,1],'lr'],
 ['rec2','Recall',[0.3,0.9,0.1,1],'ul'],
 ['vbox2','Validation Box Loss',[1.75,3.5,0.25,2]],
 ['vcls2','Validation Classification Loss',[1.0,3.5,0.5,1]],
 ['vdfl2','Validation DFL Loss',[1.75,3.5,0.25,2]],
 ['map2','mAP50',[0.2,0.9,0.1,1],'ul'],
 ['m952','mAP50-95',[0.1,0.5,0.1,1],'ul']
]);
var T3=T1.slice();T3[4]=['rec3','Recall',[0.4,0.9,0.1,1]];
block({lefts:[64,533,1002,1478,1953],tops:[2824,3408],w:416,h:512,n:240,xt:X250},T3);
svg.insertAdjacentHTML('beforeend',out);
</script>
</body></html>
